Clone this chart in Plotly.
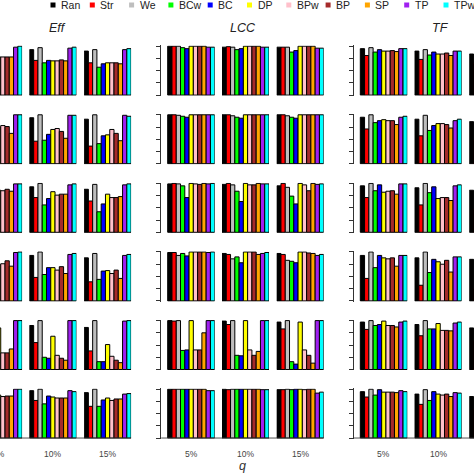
import plotly.graph_objects as go

# ---------------- data ----------------
methods = ["Ran", "Str", "We", "BCw", "BC", "DP", "BPw", "BP", "SP", "TP", "TPw"]
colors = ["#000000", "#FF0000", "#BEBEBE", "#00FF00", "#0000FF", "#FFFF00",
          "#FFC0CB", "#A52A2A", "#FFA500", "#A020F0", "#00FFFF"]
metrics = ["Eff", "LCC", "TF"]
q_labels = ["5%", "10%", "15%"]

# each list: [5%, 10%, 15%] panels, 11 values in method order
eff_1 = [[0.95, 0.75, 0.98, 0.72, 0.76, 0.78, 0.78, 0.78, 0.78, 0.98, 1.00],
         [0.93, 0.71, 0.97, 0.66, 0.71, 0.70, 0.70, 0.72, 0.70, 0.96, 0.98],
         [0.90, 0.66, 0.93, 0.57, 0.64, 0.66, 0.66, 0.66, 0.64, 0.93, 0.95]]
eff_2 = [[0.96, 0.55, 1.00, 0.55, 0.66, 0.75, 0.78, 0.76, 0.62, 1.00, 1.00],
         [0.94, 0.46, 1.00, 0.48, 0.60, 0.70, 0.72, 0.66, 0.52, 0.99, 0.99],
         [0.91, 0.36, 1.00, 0.41, 0.57, 0.59, 0.70, 0.62, 0.47, 0.99, 0.97]]
eff_3 = [[0.95, 0.78, 1.00, 0.70, 0.78, 0.86, 0.85, 0.88, 0.84, 0.99, 0.99],
         [0.93, 0.71, 1.00, 0.56, 0.69, 0.83, 0.76, 0.78, 0.78, 0.97, 0.99],
         [0.88, 0.64, 0.98, 0.42, 0.58, 0.78, 0.71, 0.71, 0.73, 0.97, 0.99]]
eff_4 = [[0.96, 0.58, 1.00, 0.62, 0.74, 0.74, 0.76, 0.82, 0.71, 0.99, 1.00],
         [0.93, 0.48, 1.00, 0.54, 0.68, 0.68, 0.63, 0.70, 0.56, 0.95, 0.97],
         [0.88, 0.39, 0.97, 0.44, 0.61, 0.62, 0.56, 0.63, 0.46, 0.93, 0.95]]
eff_5 = [[0.93, 0.70, 1.00, 0.36, 0.35, 0.85, 0.34, 0.34, 0.42, 1.00, 1.00],
         [0.90, 0.55, 1.00, 0.25, 0.23, 0.68, 0.29, 0.23, 0.19, 1.00, 1.00],
         [0.86, 0.38, 1.00, 0.16, 0.16, 0.51, 0.27, 0.19, 0.14, 0.99, 1.00]]
eff_6 = [[0.98, 0.85, 1.00, 0.80, 0.90, 0.88, 0.85, 0.86, 0.86, 1.00, 1.00],
         [0.97, 0.77, 1.00, 0.70, 0.86, 0.84, 0.82, 0.82, 0.82, 0.97, 0.95],
         [0.93, 0.65, 1.00, 0.65, 0.78, 0.82, 0.77, 0.80, 0.80, 0.90, 0.91]]

lcc_1 = [[1.00, 1.00, 1.00, 0.97, 0.95, 1.00, 1.00, 1.00, 1.00, 0.98, 0.98],
         [0.98, 0.99, 0.98, 0.93, 0.95, 1.00, 1.00, 1.00, 1.00, 0.98, 0.98],
         [0.98, 0.98, 0.98, 0.88, 0.91, 1.00, 1.00, 1.00, 1.00, 0.96, 0.96]]
lcc_2 = [[1.00, 1.00, 0.99, 0.97, 0.95, 1.00, 1.00, 1.00, 1.00, 1.00, 1.00],
         [1.00, 1.00, 0.98, 0.95, 0.93, 1.00, 1.00, 1.00, 1.00, 1.00, 1.00],
         [1.00, 1.00, 0.98, 0.95, 0.93, 1.00, 1.00, 1.00, 1.00, 1.00, 1.00]]
lcc_3 = [[0.99, 1.00, 0.99, 0.95, 0.71, 1.00, 0.99, 0.98, 1.00, 0.99, 1.00],
         [0.98, 1.00, 0.97, 0.84, 0.63, 1.00, 0.97, 0.97, 1.00, 0.99, 0.99],
         [0.95, 1.00, 0.92, 0.74, 0.58, 1.00, 0.97, 0.85, 1.00, 0.98, 0.99]]
lcc_4 = [[0.99, 0.99, 0.93, 0.97, 0.92, 1.00, 1.00, 1.00, 1.00, 0.99, 1.00],
         [0.97, 0.95, 0.86, 0.90, 0.78, 1.00, 1.00, 1.00, 0.95, 0.97, 0.99],
         [0.97, 0.95, 0.83, 0.81, 0.78, 1.00, 1.00, 0.98, 0.97, 0.93, 0.95]]
lcc_5 = [[1.00, 0.99, 1.00, 0.39, 0.40, 1.00, 0.40, 0.40, 0.75, 1.00, 1.00],
         [0.99, 0.92, 1.00, 0.29, 0.28, 1.00, 0.40, 0.29, 0.37, 1.00, 1.00],
         [0.97, 0.83, 1.00, 0.16, 0.11, 0.97, 0.40, 0.29, 0.13, 1.00, 1.00]]
lcc_6 = [[1.00, 1.00, 1.00, 1.00, 1.00, 1.00, 1.00, 1.00, 1.00, 0.97, 0.97],
         [1.00, 0.99, 1.00, 1.00, 1.00, 1.00, 1.00, 1.00, 1.00, 0.99, 0.99],
         [0.99, 0.99, 1.00, 0.99, 1.00, 1.00, 0.99, 1.00, 1.00, 0.92, 0.94]]

tf_1 = [[0.95, 0.81, 0.97, 0.88, 0.93, 0.90, 0.90, 0.91, 0.89, 0.95, 0.95],
        [0.90, 0.73, 0.93, 0.82, 0.88, 0.84, 0.84, 0.86, 0.81, 0.90, 0.90],
        [0.84, 0.65, 0.90, 0.76, 0.83, 0.79, 0.79, 0.80, 0.75, 0.86, 0.86]]
tf_2 = [[0.95, 0.71, 1.00, 0.84, 0.88, 0.90, 0.88, 0.88, 0.80, 0.95, 0.97],
        [0.91, 0.57, 0.99, 0.68, 0.78, 0.82, 0.82, 0.80, 0.73, 0.88, 0.91],
        [0.86, 0.48, 0.97, 0.58, 0.70, 0.75, 0.76, 0.72, 0.66, 0.83, 0.86]]
tf_3 = [[0.95, 0.71, 1.00, 0.85, 0.97, 0.82, 0.84, 0.85, 0.78, 0.99, 0.99],
        [0.91, 0.56, 1.00, 0.81, 0.93, 0.69, 0.71, 0.71, 0.65, 0.95, 0.97],
        [0.86, 0.46, 0.99, 0.74, 0.88, 0.60, 0.62, 0.63, 0.56, 0.92, 0.94]]
tf_4 = [[0.93, 0.46, 1.00, 0.68, 0.93, 0.88, 0.86, 0.88, 0.71, 0.93, 0.93],
        [0.88, 0.32, 1.00, 0.58, 0.85, 0.80, 0.75, 0.83, 0.59, 0.90, 0.90],
        [0.85, 0.25, 0.98, 0.50, 0.78, 0.72, 0.68, 0.76, 0.50, 0.86, 0.86]]
tf_5 = [[0.97, 0.82, 1.00, 0.90, 0.92, 0.99, 0.90, 0.90, 0.87, 0.97, 0.99],
        [0.92, 0.69, 1.00, 0.83, 0.83, 0.94, 0.80, 0.80, 0.79, 0.95, 0.97],
        [0.85, 0.58, 0.99, 0.76, 0.76, 0.88, 0.72, 0.72, 0.70, 0.92, 0.94]]
tf_6 = [[0.95, 0.84, 1.00, 0.88, 0.99, 0.94, 0.94, 0.94, 0.93, 0.97, 0.95],
        [0.90, 0.69, 0.99, 0.77, 0.95, 0.90, 0.88, 0.90, 0.85, 0.93, 0.92],
        [0.85, 0.58, 0.98, 0.68, 0.90, 0.85, 0.82, 0.85, 0.78, 0.89, 0.88]]

y_ticks = [0, 0.25, 0.5, 0.75, 1.0]

rows = {
    "Eff": [eff_1, eff_2, eff_3, eff_4, eff_5, eff_6],
    "LCC": [lcc_1, lcc_2, lcc_3, lcc_4, lcc_5, lcc_6],
    "TF": [tf_1, tf_2, tf_3, tf_4, tf_5, tf_6],
}

# ---------------- layout geometry (pixels) ----------------
W = H = 474
group_x = [-24.9, 167.7, 360.3]
sub_off = [0.0, 54.3, 109.0]
pw = 47.0
nb = len(methods)
unit = pw / nb
axis_gap = 6.5
row_top0 = 46.2
row_step = 68.6
row_h = 48.9
pad = 0.015
AX = "#333333"


def fx(p):
    return p / W


def fy(p):
    return 1 - p / H


fig = go.Figure()
layout = dict(width=W, height=H, margin=dict(l=0, r=0, t=0, b=0),
              paper_bgcolor="white", plot_bgcolor="white",
              showlegend=False, font=dict(family="Liberation Sans, Arial", color="#222"))

for r in range(6):
    top = row_top0 + r * row_step
    ydom = [fy(top + row_h + pad * row_h), fy(top - pad * row_h)]
    for g, m in enumerate(metrics):
        for s in range(3):
            n = r * 9 + g * 3 + s + 1
            x0 = group_x[g] + sub_off[s]
            x1 = x0 + pw
            lo, hi = -0.5, nb - 0.5
            show_axis = False
            if s == 0:
                x0 -= axis_gap
                lo -= axis_gap / unit
                show_axis = x0 >= 0
            if x0 < 0:
                lo += (0 - x0) / unit
                x0 = 0
            if x1 > W:
                hi -= (x1 - W) / unit
                x1 = W
            fig.add_trace(go.Bar(
                x=list(range(nb)), y=rows[m][r][s], width=1,
                marker=dict(color=colors, line=dict(color="black", width=1)),
                xaxis=f"x{n}", yaxis=f"y{n}", hoverinfo="skip"))
            layout[f"xaxis{n}"] = dict(domain=[fx(x0), fx(x1)], range=[lo, hi],
                                       visible=False, anchor=f"y{n}", fixedrange=True)
            ya = dict(domain=ydom, range=[-pad, 1 + pad], anchor=f"x{n}",
                      showgrid=False, zeroline=False, fixedrange=True)
            if show_axis:
                ya.update(showline=True, linecolor=AX, linewidth=1,
                          ticks="outside", tickvals=y_ticks, ticklen=4,
                          tickcolor=AX, tickwidth=1, showticklabels=False)
            else:
                ya.update(visible=False)
            layout[f"yaxis{n}"] = ya

shapes = []
annotations = []
# bottom baseline per group (bottom row)
for g in range(3):
    n = 5 * 9 + g * 3 + 1
    shapes.append(dict(type="line", xref="paper", yref=f"y{n}",
                       x0=fx(group_x[g] - axis_gap), x1=fx(group_x[g] + sub_off[2] + pw),
                       y0=0, y1=0, line=dict(color=AX, width=1)))
    for s in range(3):
        cx = group_x[g] + sub_off[s] + pw / 2
        if cx - 8 > W:
            continue  # label lies wholly outside the cropped view
        annotations.append(dict(text=q_labels[s], xref="paper", yref="paper",
                                x=fx(cx), y=fy(454), showarrow=False,
                                xanchor="center", yanchor="middle",
                                font=dict(size=8.5, color="#444")))

# metric titles
title_x = [57, 243, 440]
for g, m in enumerate(metrics):
    annotations.append(dict(text=f"<i>{m}</i>", xref="paper", yref="paper",
                            x=fx(title_x[g]), y=fy(28), showarrow=False,
                            xanchor="center", yanchor="middle",
                            font=dict(size=12.5, color="#222")))

annotations.append(dict(text="<i>q</i>", xref="paper", yref="paper",
                        x=fx(243), y=fy(466), showarrow=False,
                        xanchor="center", yanchor="middle",
                        font=dict(size=12.5, color="#333")))

# legend (manual, horizontal)
leg_x0 = 53.0
leg_step = 39.3
leg_y = 5.0
sq = 5.0
for i, (lab, col) in enumerate(zip(methods, colors)):
    cx = leg_x0 + i * leg_step
    shapes.append(dict(type="rect", xref="paper", yref="paper",
                       x0=fx(cx - sq / 2), x1=fx(cx + sq / 2),
                       y0=fy(leg_y + sq / 2), y1=fy(leg_y - sq / 2),
                       fillcolor=col, line=dict(width=0)))
    annotations.append(dict(text=lab, xref="paper", yref="paper",
                            x=fx(cx + 6), y=fy(leg_y), showarrow=False,
                            xanchor="left", yanchor="middle",
                            font=dict(size=10.5, color="#222")))

layout["shapes"] = shapes
layout["annotations"] = annotations
fig.update_layout(**layout)
fig.write_html("out.html", config={"displayModeBar": False},
               post_script="document.body.style.margin='0';document.body.style.overflow='hidden';")
